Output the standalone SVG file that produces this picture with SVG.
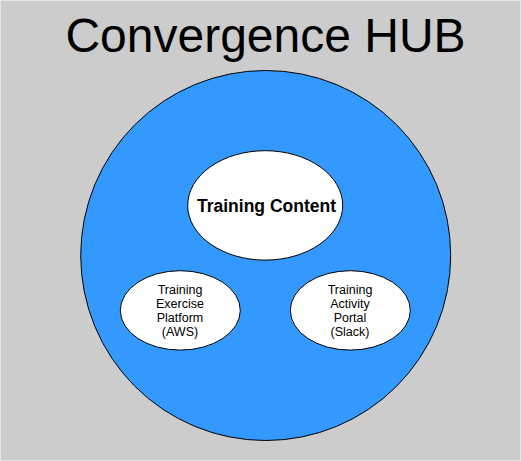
<svg xmlns="http://www.w3.org/2000/svg" width="521" height="461" viewBox="0 0 521 461">
  <style>
    .shape { stroke: #000000; stroke-width: 1; }
    .node { fill: #FFFFFF; stroke: #000000; stroke-width: 1; }
    .lbl { font-family: "Liberation Sans", Arial, sans-serif; fill: #000000; text-anchor: middle; }
    .small { font-size: 12.5px; }
  </style>
  <rect x="0.5" y="0.5" width="520" height="460" fill="#CCCCCC" stroke="#E6E6E6" stroke-width="1"/>
  <g id="title">
    <text class="lbl" x="265.5" y="52" font-size="48">Convergence HUB</text>
  </g>
  <g id="hub">
    <circle class="shape" cx="265.7" cy="255.5" r="185" fill="#3399FF"/>
  </g>
  <g id="connectors"></g>
  <g id="training-content">
    <ellipse class="node" cx="265.2" cy="205.4" rx="77.5" ry="54.7"/>
    <text class="lbl" x="266.5" y="211.5" font-size="17.5" font-weight="bold">Training Content</text>
  </g>
  <g id="training-exercise-platform">
    <ellipse class="node" cx="180.3" cy="310.4" rx="60" ry="39.7"/>
    <text class="lbl small" x="180" y="294">Training</text>
    <text class="lbl small" x="180" y="308">Exercise</text>
    <text class="lbl small" x="180" y="322">Platform</text>
    <text class="lbl small" x="180" y="336">(AWS)</text>
  </g>
  <g id="training-activity-portal">
    <ellipse class="node" cx="350.3" cy="310.4" rx="60" ry="39.7"/>
    <text class="lbl small" x="350" y="294">Training</text>
    <text class="lbl small" x="350" y="308">Activity</text>
    <text class="lbl small" x="350" y="322">Portal</text>
    <text class="lbl small" x="350" y="336">(Slack)</text>
  </g>
</svg>
